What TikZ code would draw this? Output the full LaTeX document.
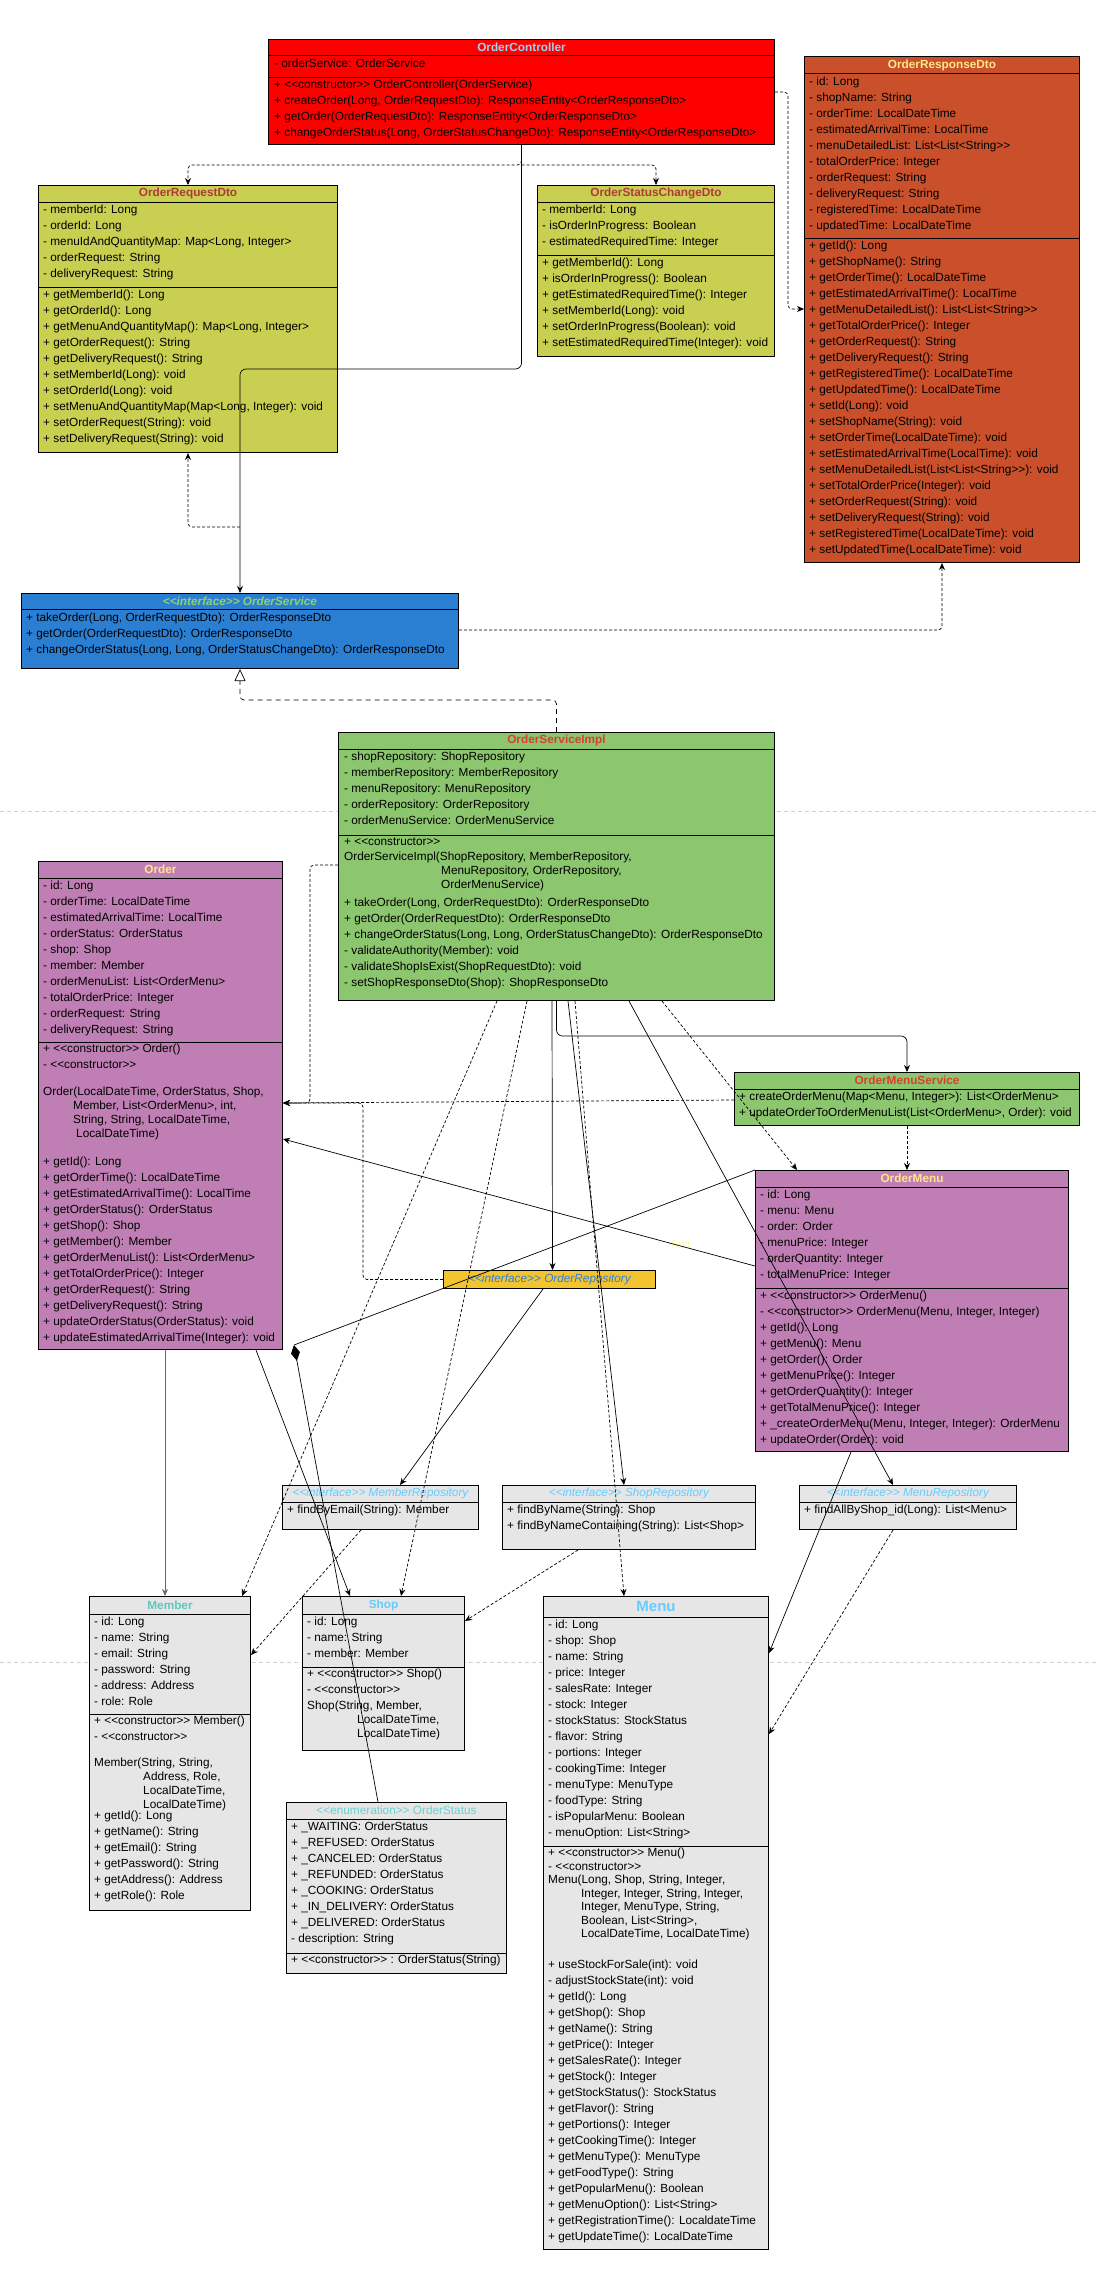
\documentclass[tikz,border=0pt]{standalone}
\usepackage{fontspec}
\setmainfont{Liberation Sans}[Ligatures=TeXOff]
\usetikzlibrary{arrows.meta, calc}

\definecolor{ctrlred}{HTML}{FF0000}
\definecolor{ctrlhead}{HTML}{9FD3F5}
\definecolor{dtoyel}{HTML}{C9CF50}
\definecolor{dtohead}{HTML}{B03A3A}
\definecolor{resporange}{HTML}{C9502B}
\definecolor{lighthead}{HTML}{FFE68A}
\definecolor{svcblue}{HTML}{2B7FD3}
\definecolor{svchead}{HTML}{90D070}
\definecolor{implgreen}{HTML}{8CC66E}
\definecolor{implhead}{HTML}{D9402A}
\definecolor{entpurple}{HTML}{BF7FB4}
\definecolor{repoyel}{HTML}{F2C42F}
\definecolor{repohead}{HTML}{2F7FE0}
\definecolor{boxgray}{HTML}{E6E6E6}
\definecolor{grayhead}{HTML}{66CCFF}
\definecolor{memberhead}{HTML}{5CC8C0}
\definecolor{enumhead}{HTML}{6CCFD0}

\tikzset{
  cls/.style={draw=black, line width=1pt, inner sep=0pt},
  sep/.style={draw=black, line width=1pt},
  hdr/.style={inner sep=0pt, font=\fontsize{11.8}{14}\selectfont\bfseries, align=center},
  rows/.style={inner sep=0pt, align=left, font=\fontsize{11.8}{16}\selectfont},
  assoc/.style={draw=black, line width=0.7pt, -{Stealth[length=7pt,width=6pt]}},
  dep/.style={draw=black, line width=0.7pt, dash pattern=on 3pt off 2pt, -{Stealth[length=7pt,width=6pt]}},
  real/.style={draw=black, line width=0.7pt, dash pattern=on 5pt off 4pt, -{Triangle[open,length=12pt,width=11pt]}},
  pageline/.style={draw=gray!35, line width=0.6pt, dash pattern=on 4pt off 3pt},
}

% name, x, y, width, height, fill, header colour, title, header height
\newcommand\umlclass[9]{%
  \node[cls, fill=#6, minimum width=#4pt, minimum height=#5pt, anchor=north west] (#1) at (#2,#3) {};
  \draw[sep] ([yshift=-#9pt]#1.north west) -- ([yshift=-#9pt]#1.north east);
  \node[hdr, text=#7, minimum width=#4pt, minimum height=#9pt, anchor=north] (#1-t) at (#1.north) {#8};}
% box, offset from top of box, separator
\newcommand\umlsep[2]{\draw[sep] ([yshift=-#2pt]#1.north west) -- ([yshift=-#2pt]#1.north east);}
% node name, box, x offset, y offset, lines
\newcommand\umlrows[5]{\node[rows, anchor=north west] (#1) at ([xshift=#3pt,yshift=-#4pt]#2.north west) {#5};}

\begin{document}
\begin{tikzpicture}[x=1pt, y=-1pt]
\useasboundingbox (0,0) rectangle (1099,2291);

% page break guides
\draw[pageline] (0,811) -- (1099,811);
\draw[pageline] (0,1662) -- (1099,1662);

% OrderController
\umlclass{ctrl}{268}{39}{506}{105}{ctrlred}{ctrlhead}{OrderController}{17}
\umlsep{ctrl}{38}
\umlrows{ctrl-a}{ctrl}{6}{20}{- orderService: OrderService}
\umlrows{ctrl-m}{ctrl}{6}{41}{+ <<constructor>> OrderController(OrderService)\\
+ createOrder(Long, OrderRequestDto): ResponseEntity<OrderResponseDto>\\
+ getOrder(OrderRequestDto): ResponseEntity<OrderResponseDto>\\
+ changeOrderStatus(Long, OrderStatusChangeDto): ResponseEntity<OrderResponseDto>}

% OrderResponseDto
\umlclass{resp}{804}{56}{275}{506}{resporange}{lighthead}{OrderResponseDto}{18}
\umlsep{resp}{182}
\umlrows{resp-a}{resp}{5}{21}{- id: Long\\
- shopName: String\\
- orderTime: LocalDateTime\\
- estimatedArrivalTime: LocalTime\\
- menuDetailedList: List<List<String>>\\
- totalOrderPrice: Integer\\
- orderRequest: String\\
- deliveryRequest: String\\
- registeredTime: LocalDateTime\\
- updatedTime: LocalDateTime}
\umlrows{resp-m}{resp}{5}{185}{+ getId(): Long\\
+ getShopName(): String\\
+ getOrderTime(): LocalDateTime\\
+ getEstimatedArrivalTime(): LocalTime\\
+ getMenuDetailedList(): List<List<String>>\\
+ getTotalOrderPrice(): Integer\\
+ getOrderRequest(): String\\
+ getDeliveryRequest(): String\\
+ getRegisteredTime(): LocalDateTime\\
+ getUpdatedTime(): LocalDateTime\\
+ setId(Long): void\\
+ setShopName(String): void\\
+ setOrderTime(LocalDateTime): void\\
+ setEstimatedArrivalTime(LocalTime): void\\
+ setMenuDetailedList(List<List<String>>): void\\
+ setTotalOrderPrice(Integer): void\\
+ setOrderRequest(String): void\\
+ setDeliveryRequest(String): void\\
+ setRegisteredTime(LocalDateTime): void\\
+ setUpdatedTime(LocalDateTime): void}

% OrderRequestDto
\umlclass{req}{38}{185}{299}{267}{dtoyel}{dtohead}{OrderRequestDto}{17}
\umlsep{req}{102}
\umlrows{req-a}{req}{5}{20}{- memberId: Long\\
- orderId: Long\\
- menuIdAndQuantityMap: Map<Long, Integer>\\
- orderRequest: String\\
- deliveryRequest: String}
\umlrows{req-m}{req}{5}{105}{+ getMemberId(): Long\\
+ getOrderId(): Long\\
+ getMenuAndQuantityMap(): Map<Long, Integer>\\
+ getOrderRequest(): String\\
+ getDeliveryRequest(): String\\
+ setMemberId(Long): void\\
+ setOrderId(Long): void\\
+ setMenuAndQuantityMap(Map<Long, Integer): void\\
+ setOrderRequest(String): void\\
+ setDeliveryRequest(String): void}

% OrderStatusChangeDto
\umlclass{stdto}{537}{185}{237}{171}{dtoyel}{dtohead}{OrderStatusChangeDto}{17}
\umlsep{stdto}{70}
\umlrows{stdto-a}{stdto}{5}{20}{- memberId: Long\\
- isOrderInProgress: Boolean\\
- estimatedRequiredTime: Integer}
\umlrows{stdto-m}{stdto}{5}{73}{+ getMemberId(): Long\\
+ isOrderInProgress(): Boolean\\
+ getEstimatedRequiredTime(): Integer\\
+ setMemberId(Long): void\\
+ setOrderInProgress(Boolean): void\\
+ setEstimatedRequiredTime(Integer): void}

% OrderService
\umlclass{svc}{21}{593}{437}{75}{svcblue}{svchead}{\itshape <<interface>> OrderService}{16}
\umlrows{svc-m}{svc}{5}{20}{+ takeOrder(Long, OrderRequestDto): OrderResponseDto\\
+ getOrder(OrderRequestDto): OrderResponseDto\\
+ changeOrderStatus(Long, Long, OrderStatusChangeDto): OrderResponseDto}

% OrderServiceImpl
\umlclass{impl}{338}{732}{436}{268}{implgreen}{implhead}{OrderServiceImpl}{17}
\umlsep{impl}{103}
\umlrows{impl-a}{impl}{6}{20}{- shopRepository: ShopRepository\\
- memberRepository: MemberRepository\\
- menuRepository: MenuRepository\\
- orderRepository: OrderRepository\\
- orderMenuService: OrderMenuService}
\node[rows, font=\fontsize{11.8}{14.3}\selectfont, anchor=north west] (impl-c) at ([xshift=6pt,yshift=-106pt]impl.north west) {+ <<constructor>>\\
OrderServiceImpl(ShopRepository, MemberRepository,\\
\hspace*{97pt}MenuRepository, OrderRepository,\\
\hspace*{97pt}OrderMenuService)};
\umlrows{impl-m}{impl}{6}{166}{+ takeOrder(Long, OrderRequestDto): OrderResponseDto\\
+ getOrder(OrderRequestDto): OrderResponseDto\\
+ changeOrderStatus(Long, Long, OrderStatusChangeDto): OrderResponseDto\\
- validateAuthority(Member): void\\
- validateShopIsExist(ShopRequestDto): void\\
- setShopResponseDto(Shop): ShopResponseDto}

% Order
\umlclass{order}{38}{861}{244}{488}{entpurple}{lighthead}{Order}{17}
\umlsep{order}{181}
\umlrows{order-a}{order}{5}{20}{- id: Long\\
- orderTime: LocalDateTime\\
- estimatedArrivalTime: LocalTime\\
- orderStatus: OrderStatus\\
- shop: Shop\\
- member: Member\\
- orderMenuList: List<OrderMenu>\\
- totalOrderPrice: Integer\\
- orderRequest: String\\
- deliveryRequest: String}
\umlrows{order-c}{order}{5}{183}{+ <<constructor>> Order()\\
- <<constructor>>}
\node[rows, font=\fontsize{11.8}{14}\selectfont, anchor=north west] (order-k) at ([xshift=5pt,yshift=-226pt]order.north west) {Order(LocalDateTime, OrderStatus, Shop,\\
\hspace*{30pt}Member, List<OrderMenu>, int,\\
\hspace*{30pt}String, String, LocalDateTime,\\
\hspace*{33pt}LocalDateTime)};
\umlrows{order-m}{order}{5}{296}{+ getId(): Long\\
+ getOrderTime(): LocalDateTime\\
+ getEstimatedArrivalTime(): LocalTime\\
+ getOrderStatus(): OrderStatus\\
+ getShop(): Shop\\
+ getMember(): Member\\
+ getOrderMenuList(): List<OrderMenu>\\
+ getTotalOrderPrice(): Integer\\
+ getOrderRequest(): String\\
+ getDeliveryRequest(): String\\
+ updateOrderStatus(OrderStatus): void\\
+ updateEstimatedArrivalTime(Integer): void}

% OrderMenuService
\umlclass{oms}{734}{1072}{345}{53}{implgreen}{implhead}{OrderMenuService}{17}
\umlrows{oms-m}{oms}{5}{20}{+ createOrderMenu(Map<Menu, Integer>): List<OrderMenu>\\
+ updateOrderToOrderMenuList(List<OrderMenu>, Order): void}

% OrderMenu
\umlclass{omenu}{755}{1170}{313}{281}{entpurple}{lighthead}{OrderMenu}{17}
\umlsep{omenu}{118}
\umlrows{omenu-a}{omenu}{5}{20}{- id: Long\\
- menu: Menu\\
- order: Order\\
- menuPrice: Integer\\
- orderQuantity: Integer\\
- totalMenuPrice: Integer}
\umlrows{omenu-m}{omenu}{5}{121}{+ <<constructor>> OrderMenu()\\
- <<constructor>> OrderMenu(Menu, Integer, Integer)\\
+ getId(): Long\\
+ getMenu(): Menu\\
+ getOrder(): Order\\
+ getMenuPrice(): Integer\\
+ getOrderQuantity(): Integer\\
+ getTotalMenuPrice(): Integer\\
+ \_createOrderMenu(Menu, Integer, Integer): OrderMenu\\
+ updateOrder(Order): void}

% OrderRepository
\node[cls, fill=repoyel, minimum width=212pt, minimum height=18pt, anchor=north west, text=repohead, font=\fontsize{11.8}{14}\selectfont\itshape] (orepo) at (443,1270) {<<interface>> OrderRepository};

% repositories
\umlclass{mrepo}{282}{1485}{196}{44}{boxgray}{grayhead}{\mdseries\itshape <<interface>> MemberRepository}{17}
\umlrows{mrepo-m}{mrepo}{5}{20}{+ findByEmail(String): Member}
\umlclass{srepo}{502}{1485}{253}{64}{boxgray}{grayhead}{\mdseries\itshape <<interface>> ShopRepository}{17}
\umlrows{srepo-m}{srepo}{5}{20}{+ findByName(String): Shop\\
+ findByNameContaining(String): List<Shop>}
\umlclass{nrepo}{799}{1485}{217}{44}{boxgray}{grayhead}{\mdseries\itshape <<interface>> MenuRepository}{17}
\umlrows{nrepo-m}{nrepo}{5}{20}{+ findAllByShop\_id(Long): List<Menu>}

% Member
\umlclass{member}{89}{1596}{161}{314}{boxgray}{memberhead}{Member}{18}
\umlsep{member}{118}
\umlrows{member-a}{member}{5}{21}{- id: Long\\
- name: String\\
- email: String\\
- password: String\\
- address: Address\\
- role: Role}
\umlrows{member-c}{member}{5}{120}{+ <<constructor>> Member()\\
- <<constructor>>}
\node[rows, font=\fontsize{11.8}{14}\selectfont, anchor=north west] (member-k) at ([xshift=5pt,yshift=-162pt]member.north west) {Member(String, String,\\
\hspace*{49pt}Address, Role,\\
\hspace*{49pt}LocalDateTime,\\
\hspace*{49pt}LocalDateTime)};
\umlrows{member-m}{member}{5}{215}{+ getId(): Long\\
+ getName(): String\\
+ getEmail(): String\\
+ getPassword(): String\\
+ getAddress(): Address\\
+ getRole(): Role}

% Shop
\umlclass{shop}{302}{1596}{162}{154}{boxgray}{grayhead}{Shop}{18}
\umlsep{shop}{71}
\umlrows{shop-a}{shop}{5}{21}{- id: Long\\
- name: String\\
- member: Member}
\umlrows{shop-c}{shop}{5}{73}{+ <<constructor>> Shop()\\
- <<constructor>>}
\node[rows, font=\fontsize{11.8}{14}\selectfont, anchor=north west] (shop-k) at ([xshift=5pt,yshift=-105pt]shop.north west) {Shop(String, Member,\\
\hspace*{50pt}LocalDateTime,\\
\hspace*{50pt}LocalDateTime)};

% OrderStatus
\umlclass{ostatus}{286}{1802}{220}{171}{boxgray}{enumhead}{\mdseries <<enumeration>> OrderStatus}{17}
\umlsep{ostatus}{151}
\umlrows{ostatus-a}{ostatus}{5}{20}{+ \_WAITING: OrderStatus\\
+ \_REFUSED: OrderStatus\\
+ \_CANCELED: OrderStatus\\
+ \_REFUNDED: OrderStatus\\
+ \_COOKING: OrderStatus\\
+ \_IN\_DELIVERY: OrderStatus\\
+ \_DELIVERED: OrderStatus\\
- description: String}
\umlrows{ostatus-m}{ostatus}{5}{153}{+ <<constructor>> : OrderStatus(String)}

% Menu
\node[cls, fill=boxgray, minimum width=225pt, minimum height=653pt, anchor=north west] (menu) at (543,1596) {};
\draw[sep] ([yshift=-21pt]menu.north west) -- ([yshift=-21pt]menu.north east);
\node[hdr, text=grayhead, font=\fontsize{15}{18}\selectfont\bfseries, minimum width=225pt, minimum height=21pt, anchor=north] (menu-t) at (menu.north) {Menu};
\umlsep{menu}{250}
\umlrows{menu-a}{menu}{5}{24}{- id: Long\\
- shop: Shop\\
- name: String\\
- price: Integer\\
- salesRate: Integer\\
- stock: Integer\\
- stockStatus: StockStatus\\
- flavor: String\\
- portions: Integer\\
- cookingTime: Integer\\
- menuType: MenuType\\
- foodType: String\\
- isPopularMenu: Boolean\\
- menuOption: List<String>}
\node[rows, font=\fontsize{11.8}{13.5}\selectfont, anchor=north west] (menu-c) at ([xshift=5pt,yshift=-252pt]menu.north west) {+ <<constructor>> Menu()\\
- <<constructor>>\\
Menu(Long, Shop, String, Integer,\\
\hspace*{33pt}Integer, Integer, String, Integer,\\
\hspace*{33pt}Integer, MenuType, String,\\
\hspace*{33pt}Boolean, List<String>,\\
\hspace*{33pt}LocalDateTime, LocalDateTime)};
\umlrows{menu-m}{menu}{5}{364}{+ useStockForSale(int): void\\
- adjustStockState(int): void\\
+ getId(): Long\\
+ getShop(): Shop\\
+ getName(): String\\
+ getPrice(): Integer\\
+ getSalesRate(): Integer\\
+ getStock(): Integer\\
+ getStockStatus(): StockStatus\\
+ getFlavor(): String\\
+ getPortions(): Integer\\
+ getCookingTime(): Integer\\
+ getMenuType(): MenuType\\
+ getFoodType(): String\\
+ getPopularMenu(): Boolean\\
+ getMenuOption(): List<String>\\
+ getRegistrationTime(): LocaldateTime\\
+ getUpdateTime(): LocalDateTime}

\node[font=\fontsize{11}{13}\selectfont, text=yellow!40!white] (txtlabel) at (680,1245) {Text};

% connectors: controller
\draw[assoc, rounded corners=6pt] (ctrl.south) |- (svc.north |- 0,369) -- (svc.north);
\draw[dep, rounded corners=4pt] (ctrl.south) -- (ctrl.south |- 0,165) -| (req.north);
\draw[dep, rounded corners=4pt] (ctrl.south |- 0,165) -| (stdto.north);
\draw[dep, rounded corners=4pt] (ctrl.east |- 0,92) -| (788,309) -- (resp.west |- 0,309);

% connectors: service interface
\draw[dep, rounded corners=4pt] (svc.north |- 0,527) -| (req.south);
\draw[dep, rounded corners=4pt] (svc.east |- 0,630) -| (resp.south);
\draw[real, rounded corners=4pt] (impl.north) |- (svc.south |- 0,700) -- (svc.south);

% connectors: service implementation
\draw[dep] ([xshift=159pt]impl.south west) -- ([xshift=153pt]member.north west);
\draw[dep] ([xshift=189pt]impl.south west) -- ([xshift=99pt]shop.north west);
\draw[assoc] ([xshift=214pt]impl.south west) -- ([xshift=3pt]orepo.north);
\draw[assoc] ([xshift=230pt]impl.south west) -- ([xshift=122pt]srepo.north west);
\draw[dep] ([xshift=237pt]impl.south west) -- ([xshift=81pt]menu.north west);
\draw[assoc] ([xshift=291pt]impl.south west) -- ([xshift=94pt]nrepo.north west);
\draw[dep] ([xshift=324pt]impl.south west) -- ([xshift=42pt]omenu.north west);
\draw[assoc, rounded corners=6pt] (impl.south) |- (oms.north |- 0,1036) -- (oms.north);
\draw[dep, rounded corners=4pt] (impl.west |- 0,865) -- ++(-28,0) |- (order.east |- 0,1103);

% connectors: order side
\draw[dep] (oms.west |- 0,1100) -- (order.east |- 0,1103);
\draw[dep] (oms.south) -- (oms.south |- omenu.north);
\draw[dep, rounded corners=4pt] (orepo.west) -- ++(-80,0) |- (order.east |- 0,1103);
\draw[assoc] (omenu.west |- 0,1266) -- (order.east |- 0,1139);
\coordinate (dia) at ([xshift=11pt,yshift=5pt]order.south east);
\draw[draw=black, line width=0.7pt] (omenu.north west) -- (dia);
\draw[draw=black, line width=0.7pt, -{Diamond[length=16pt,width=9pt]}] ([xshift=92pt]ostatus.north west) -- (dia);
\draw[assoc, draw=black!60] ([xshift=127pt]order.south west) -- ([xshift=76pt]member.north west);
\draw[assoc] ([xshift=218pt]order.south west) -- ([xshift=48pt]shop.north west);

% connectors: repositories
\draw[assoc] ([xshift=100pt]orepo.south west) -- ([xshift=118pt]mrepo.north west);
\draw[dep] ([xshift=79pt]mrepo.south west) -- (member.east |- 0,1655);
\draw[dep] ([xshift=76pt]srepo.south west) -- (shop.east |- 0,1621);
\draw[dep] ([xshift=94pt]nrepo.south west) -- (menu.east |- 0,1734);
\draw[assoc] ([xshift=96pt]omenu.south west) -- (menu.east |- 0,1653);
\end{tikzpicture}
\end{document}
